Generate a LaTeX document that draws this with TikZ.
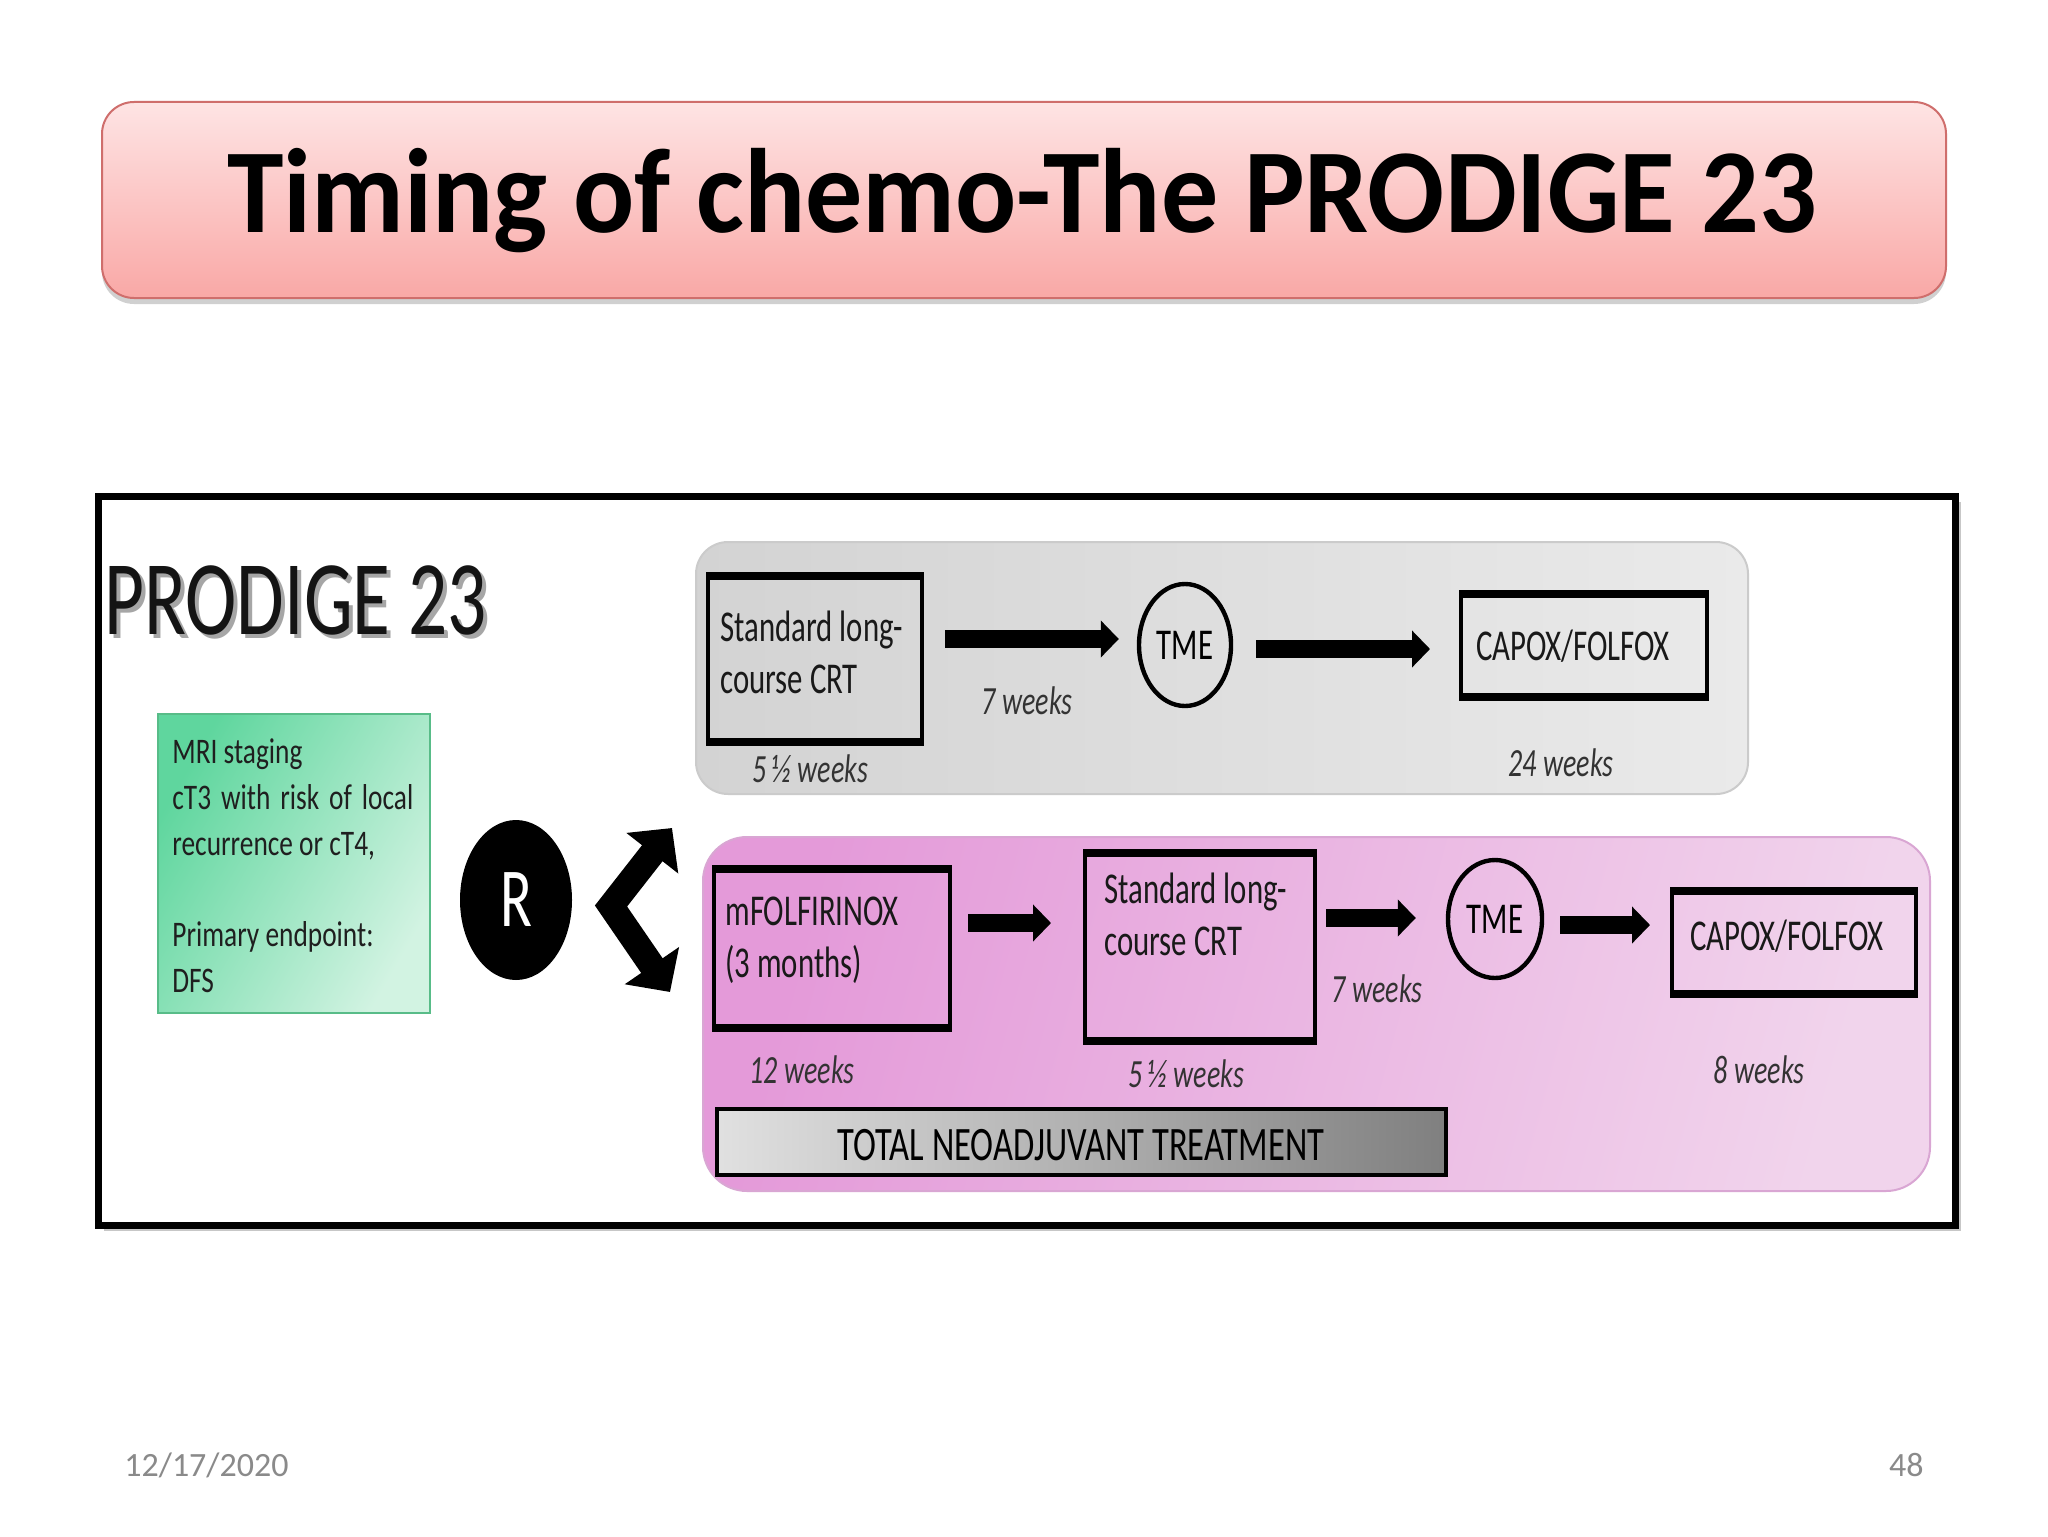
\documentclass[tikz,border=0pt]{standalone}
\usepackage{fontspec}
\setmainfont{Carlito}
\newfontfamily\condA[FakeStretch=0.70]{Carlito}
\newfontfamily\condB[FakeStretch=0.72]{Carlito}
\newfontfamily\condP[FakeStretch=0.73]{Carlito}
\newfontfamily\condG[FakeStretch=0.76]{Carlito}
\newfontfamily\condT[FakeStretch=0.95]{Carlito}
\usetikzlibrary{arrows.meta,shapes.geometric,shadows,calc}
\definecolor{titletop}{HTML}{FEE4E4}
\definecolor{titlebot}{HTML}{F9A8A6}
\definecolor{titleborder}{HTML}{CF6E6C}
\definecolor{greenA}{HTML}{5FD69E}
\definecolor{greenB}{HTML}{D2F3E2}
\definecolor{greenborder}{HTML}{58BC88}
\definecolor{grayA}{HTML}{D3D3D3}
\definecolor{grayB}{HTML}{EAEAEA}
\definecolor{grayborder}{HTML}{CBCBCB}
\definecolor{pinkA}{HTML}{E49AD9}
\definecolor{pinkB}{HTML}{F1D4EC}
\definecolor{pinkborder}{HTML}{D9A6D3}
\definecolor{footgray}{HTML}{8A8A8A}
\begin{document}
\begin{tikzpicture}[x=0.5pt,y=-0.5pt,
  boxtext/.style={font=\condA\fontsize{22}{26}\selectfont, align=left, inner sep=0pt, text=black!90},
  wklabel/.style={font=\condA\itshape\fontsize{20}{24}\selectfont, inner sep=0pt, text=black!80},
  stepbox/.style={draw=black, line width=2pt, inner sep=0pt, outer sep=0pt},
  tmecircle/.style={ellipse, draw=black, line width=2.2pt, inner sep=0pt, font=\condA\fontsize{22}{26}\selectfont},
  barrow/.style={line width=9pt, -{Triangle[length=9pt,width=18pt]}},
]
\useasboundingbox (0,0) rectangle (2048,1536);
\fill[white] (0,0) rectangle (2048,1536);

% title
\node[draw=titleborder, line width=1pt, rounded corners=16pt, top color=titletop, bottom color=titlebot,
  minimum width=922pt, minimum height=98pt, inner sep=0pt,
  drop shadow={shadow xshift=0pt, shadow yshift=-3pt, opacity=0.3, fill=black!60}] (title) at (1024,200) {};
\node[font=\condT\bfseries\fontsize{60}{70}\selectfont, anchor=base, inner sep=0pt] (titletxt) at (1022,232) {Timing of chemo-The PRODIGE 23};

% frame
\fill[black!22] (104,502) rectangle (1961,1231);
\node[draw=black, line width=3.5pt, fill=white, minimum width=928.5pt, minimum height=364.5pt, inner sep=0pt] (frame) at (1026.5,860.5) {};

% PRODIGE 23 heading with shadow
\node[font=\condP\fontsize{53}{60}\selectfont, text=black!35, anchor=west, inner sep=0pt] (prodshadow) at (108,604) {PRODIGE 23};
\node[font=\condP\fontsize{53}{60}\selectfont, text=black!92, anchor=west, inner sep=0pt] (prod) at (104,600) {PRODIGE 23};

% green box
\node[draw=greenborder, line width=0.8pt, left color=greenA, right color=greenB, shading angle=60,
  minimum width=136pt, minimum height=149.5pt, inner sep=0pt] (green) at (294,863.5) {};
\node[font=\condG\fontsize{18}{22.9}\selectfont, align=left, anchor=west, inner sep=0pt, text=black!88] (greentxt) at (172,866)
  {MRI staging\\\makebox[120.5pt][s]{cT3 with risk of local}\\recurrence or cT4,\\[22.9pt]Primary endpoint:\\DFS};

% R
\node[ellipse, fill=black, minimum width=56pt, minimum height=80pt, inner sep=0pt, text=white,
  font=\condA\fontsize{42}{50}\selectfont] (R) at (516,900) {R};

% chevron arrow
\coordinate (chvU) at (672,828);
\coordinate (chvV) at (611,906);
\coordinate (chvL) at (670,992);
\draw[line width=13pt, {Triangle[length=16pt,width=32pt]}-{Triangle[length=16pt,width=32pt]}] (chvU) -- (chvV) -- (chvL);

% gray panel (standard arm)
\node[draw=grayborder, line width=1pt, rounded corners=16pt, left color=grayA, right color=grayB,
  minimum width=526pt, minimum height=126pt, inner sep=0pt] (graypanel) at (1222,668) {};
\node[stepbox, minimum width=107pt, minimum height=83pt] (crt1) at (815,659) {};
\node[boxtext, anchor=west] (crt1txt) at (720,652) {Standard long-\\course CRT};
\node[wklabel] (crt1wk) at (810,769) {5 ½ weeks};
\node[tmecircle, minimum width=46pt, minimum height=61pt] (tme1) at (1185,645) {TME};
\node[wklabel] (tme1wk) at (1027,701) {7 weeks};
\node[stepbox, minimum width=123pt, minimum height=51.5pt] (capox1) at (1584,645.5) {};
\node[boxtext] (capox1txt) at (1573,646) {CAPOX/FOLFOX};
\node[wklabel] (capox1wk) at (1561,763) {24 weeks};
\draw[barrow, shorten <=11.5pt, shorten >=9pt] (crt1.east |- 0,639) -- (tme1.west |- 0,639);
\draw[barrow, shorten <=11.5pt, shorten >=15.5pt] (tme1.east |- 0,649) -- (capox1.west |- 0,649);

% pink panel (TNT arm)
\node[draw=pinkborder, line width=1pt, rounded corners=22pt, left color=pinkA, right color=pinkB, shading angle=75,
  minimum width=613.5pt, minimum height=177pt, inner sep=0pt] (pinkpanel) at (1316.5,1014) {};
\node[stepbox, minimum width=118pt, minimum height=79.5pt] (mfol) at (832,948.5) {};
\node[boxtext, anchor=west] (mfoltxt) at (725,940) {mFOLFIRINOX\\(3 months)};
\node[wklabel] (mfolwk) at (802,1070) {12 weeks};
\node[stepbox, minimum width=115pt, minimum height=94pt] (crt2) at (1200,947) {};
\node[boxtext, anchor=west] (crt2txt) at (1104,914) {Standard long-\\course CRT};
\node[wklabel] (crt2wk) at (1186,1074) {5 ½ weeks};
\node[wklabel] (crt2gap) at (1377,989) {7 weeks};
\node[tmecircle, minimum width=47pt, minimum height=59pt] (tme2) at (1495,919) {TME};
\node[stepbox, minimum width=122pt, minimum height=51.5pt] (capox2) at (1794,942.5) {};
\node[boxtext] (capox2txt) at (1787,936) {CAPOX/FOLFOX};
\node[wklabel] (capox2wk) at (1759,1070) {8 weeks};
\draw[barrow, shorten <=9pt, shorten >=17pt] (mfol.east |- 0,923) -- (crt2.west |- 0,923);
\draw[barrow, shorten <=5.5pt, shorten >=15pt] (crt2.east |- 0,918) -- (tme2.west |- 0,918);
\draw[barrow, shorten <=8pt, shorten >=11pt] (tme2.east |- 0,925) -- (capox2.west |- 0,925);

% thicker top and bottom edges of the step boxes
\foreach \b in {crt1,capox1,mfol,crt2,capox2} {
  \draw[line width=3.6pt] ([xshift=-1pt]\b.north west) -- ([xshift=1pt]\b.north east);
  \draw[line width=3.6pt] ([xshift=-1pt]\b.south west) -- ([xshift=1pt]\b.south east);
}

\node[draw=black, line width=1.6pt, left color=black!12, right color=black!50, minimum width=364.5pt, minimum height=33pt,
  inner sep=0pt] (tnt) at (1081.5,1142) {};
\node[font=\condB\fontsize{24}{28}\selectfont, inner sep=0pt] (tnttxt) at (1081,1145) {TOTAL NEOADJUVANT TREATMENT};

% footer
\node[font=\fontsize{17}{20}\selectfont, text=footgray, anchor=west, inner sep=0pt] (date) at (124,1465) {12/17/2020};
\node[font=\fontsize{17}{20}\selectfont, text=footgray, anchor=east, inner sep=0pt] (pagenum) at (1924,1465) {48};
\end{tikzpicture}
\end{document}
